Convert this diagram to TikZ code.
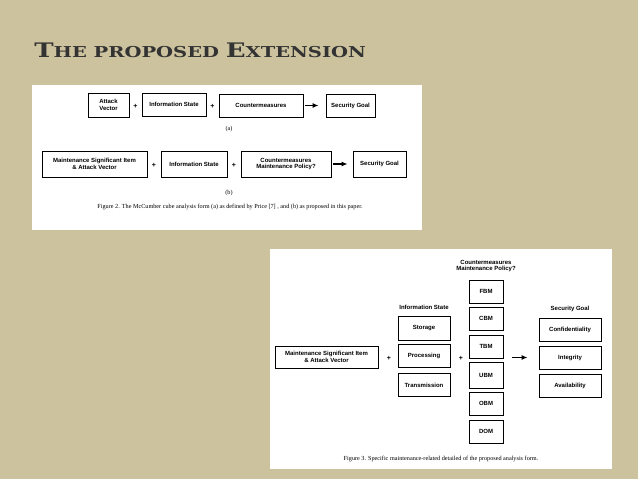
\documentclass[tikz,border=0pt]{standalone}
\usepackage{fontspec}
\usetikzlibrary{arrows.meta}
\setmainfont{Liberation Serif}
\setsansfont{Liberation Sans}
\newfontfamily\titlefont{DejaVu Serif}
\begin{document}
\begin{tikzpicture}[x=1pt,y=-1pt,
  bx/.style={draw=black,line width=0.9pt,align=center,font=\sffamily\bfseries\fontsize{6}{6.5}\selectfont,inner sep=0pt},
  lbl/.style={font=\sffamily\bfseries\fontsize{6}{6.5}\selectfont,align=center},
  pl/.style={font=\sffamily\bfseries\fontsize{7}{7}\selectfont},
  captxt/.style={font=\fontsize{6.2}{7}\selectfont},
  arr/.style={-{Latex[length=6pt,width=5pt]},line width=1.3pt}]
\definecolor{bg}{RGB}{205,194,158}
\fill[bg] (0,0) rectangle (638,479);
\useasboundingbox (0,0) rectangle (638,479);
\node[anchor=west,text=black!80,font=\titlefont\bfseries,xscale=1.3,inner sep=0pt] (title) at (34,50)
  {{\fontsize{20}{20}\selectfont T}{\fontsize{15}{15}\selectfont HE PROPOSED }{\fontsize{20}{20}\selectfont E}{\fontsize{15}{15}\selectfont XTENSION}};
\fill[white] (32,85) rectangle (422,230);
\fill[white] (270,249) rectangle (612,469);
% top (a)
\node[bx,minimum width=41,minimum height=24] (av) at (108.5,105) {Attack\\Vector};
\node[bx,minimum width=64,minimum height=23] (is1) at (174,104.5) {Information State};
\node[bx,minimum width=84,minimum height=23] (cm1) at (261,105.5) {Countermeasures};
\node[bx,minimum width=49,minimum height=23] (sg1) at (350.5,105.5) {Security Goal};
\node[pl] (p1) at (135.5,106) {+};
\node[pl] (p2) at (212.5,106) {+};
\draw[arr] ([xshift=2]cm1.east) -- ([xshift=-7]sg1.west);
\node[captxt] (la) at (229,129) {(a)};
% top (b)
\node[bx,minimum width=105,minimum height=26] (msi1) at (94.5,164) {Maintenance Significant Item\\\& Attack Vector};
\node[bx,minimum width=66,minimum height=26] (is2) at (194,164) {Information State};
\node[bx,minimum width=90,minimum height=26] (cm2) at (286,164) {Countermeasures\\Maintenance Policy?};
\node[bx,minimum width=53,minimum height=26] (sg2) at (379.5,164) {Security Goal};
\node[pl] (p3) at (154,165) {+};
\node[pl] (p4) at (234,165) {+};
\draw[arr] ([xshift=2]cm2.east) -- ([xshift=-5]sg2.west);
\node[captxt] (lb) at (229,193) {(b)};
\node[captxt] (c2) at (230,207) {Figure 2. The McCumber cube analysis form (a) as defined by Price [7] , and (b) as proposed in this paper.};
% bottom
\node[lbl] (cmh) at (486,266) {Countermeasures\\Maintenance Policy?};
\foreach \n/\y/\h in {FBM/291.5/23,CBM/318.5/23,TBM/346.5/23,UBM/375/26,OBM/403.5/23,DOM/431.5/23}
  \node[bx,minimum width=34,minimum height=\h] (\n) at (486,\y) {\n};
\node[lbl] (ish) at (424,307) {Information State};
\node[bx,minimum width=52,minimum height=24] (st) at (424,328) {Storage};
\node[bx,minimum width=52,minimum height=23] (pr) at (424,356) {Processing};
\node[bx,minimum width=52,minimum height=23] (tr) at (424,385) {Transmission};
\node[bx,minimum width=103,minimum height=22] (msi2) at (326.5,357) {Maintenance Significant Item\\\& Attack Vector};
\node[pl] (p5) at (389,358) {+};
\node[pl] (p6) at (461,358) {+};
\node[lbl] (sgh) at (570,309) {Security Goal};
\node[bx,minimum width=62,minimum height=23] (cf) at (570,329.5) {Confidentiality};
\node[bx,minimum width=62,minimum height=23] (ig) at (570,357.5) {Integrity};
\node[bx,minimum width=62,minimum height=23] (avl) at (570,385.5) {Availability};
\coordinate (b1) at (512,357.5);
\draw[arr] (b1) -- ([xshift=-11]ig.west);
\node[captxt] (c3) at (441,459) {Figure 3. Specific maintenance-related detailed of the proposed analysis form.};
\end{tikzpicture}
\end{document}
